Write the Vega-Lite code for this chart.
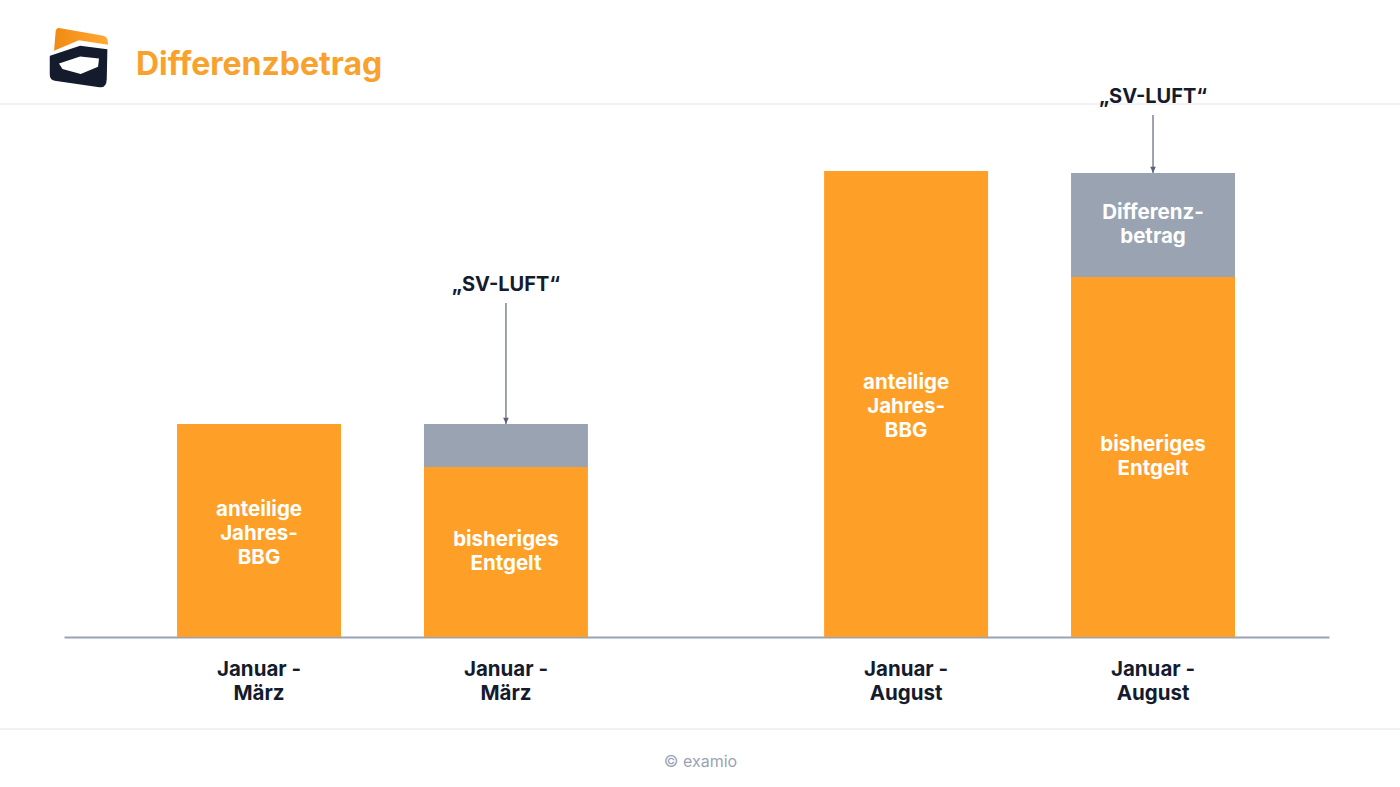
{
  "$schema": "https://vega.github.io/schema/vega-lite/v6.json",
  "width": 1265,
  "height": 500,
  "autosize": {"type": "none"},
  "padding": {"left": 64, "right": 71, "top": 137, "bottom": 150},
  "background": "#ffffff",
  "config": {
    "view": {"stroke": null},
    "font": "Inter",
    "text": {"font": "Inter"}
  },
  "datasets": {
    "werte": [
      {"zeitraum": "Januar - März", "spalte": "anteilige Jahres-BBG", "teil": "anteilige Jahres-BBG", "wert": 213, "beschriftung": "anteilige\nJahres-\nBBG", "hinweis": "", "hinweis_pfeil": null},
      {"zeitraum": "Januar - März", "spalte": "bisheriges Entgelt", "teil": "bisheriges Entgelt", "wert": 170, "beschriftung": "bisheriges\nEntgelt", "hinweis": "", "hinweis_pfeil": null},
      {"zeitraum": "Januar - März", "spalte": "bisheriges Entgelt", "teil": "Differenzbetrag", "wert": 43, "beschriftung": "", "hinweis": "„SV-LUFT“", "hinweis_pfeil": 334},
      {"zeitraum": "Januar - August", "spalte": "anteilige Jahres-BBG", "teil": "anteilige Jahres-BBG", "wert": 466, "beschriftung": "anteilige\nJahres-\nBBG", "hinweis": "", "hinweis_pfeil": null},
      {"zeitraum": "Januar - August", "spalte": "bisheriges Entgelt", "teil": "bisheriges Entgelt", "wert": 360, "beschriftung": "bisheriges\nEntgelt", "hinweis": "", "hinweis_pfeil": null},
      {"zeitraum": "Januar - August", "spalte": "bisheriges Entgelt", "teil": "Differenzbetrag", "wert": 104, "beschriftung": "Differenz-\nbetrag", "hinweis": "„SV-LUFT“", "hinweis_pfeil": 522}
    ]
  },
  "layer": [
    {
      "data": {"values": [{}]},
      "layer": [
        {
          "mark": {"type": "rule", "color": "#F1F2F4", "strokeWidth": 2},
          "encoding": {
            "x": {"datum": -64, "type": "quantitative", "scale": {"domain": [0, 1265]}, "axis": null},
            "x2": {"datum": 1336},
            "y": {"datum": 533, "type": "quantitative", "scale": {"domain": [0, 500]}, "axis": null}
          }
        },
        {
          "mark": {"type": "rule", "color": "#F1F2F4", "strokeWidth": 2},
          "encoding": {
            "x": {"datum": -64, "type": "quantitative", "scale": {"domain": [0, 1265]}, "axis": null},
            "x2": {"datum": 1336},
            "y": {"datum": -92, "type": "quantitative", "scale": {"domain": [0, 500]}, "axis": null}
          }
        },
        {
          "mark": {
            "type": "point",
            "filled": true,
            "opacity": 1,
            "size": 3844,
            "shape": "M-0.58,-0.95 L0.85,-0.70 Q0.97,-0.67 0.99,-0.54 L1.0,-0.41 L0.06,-0.56 L-0.74,-0.22 L-0.69,-0.83 Q-0.67,-0.97 -0.58,-0.95 Z",
            "color": {
              "gradient": "linear",
              "x1": 0, "y1": 0, "x2": 1, "y2": 0,
              "stops": [{"offset": 0, "color": "#F08A12"}, {"offset": 1, "color": "#FFA935"}]
            }
          },
          "encoding": {
            "x": {"datum": 13, "type": "quantitative", "scale": {"domain": [0, 1265]}, "axis": null},
            "y": {"datum": 579.5, "type": "quantitative", "scale": {"domain": [0, 500]}, "axis": null}
          }
        },
        {
          "mark": {
            "type": "point",
            "filled": true,
            "opacity": 1,
            "size": 3844,
            "color": "#141B2D",
            "shape": "M-0.87,-0.06 L0.1,-0.38 L0.98,-0.27 L0.96,0.69 Q0.95,0.99 0.72,0.96 L-0.72,0.75 Q-0.88,0.72 -0.88,0.53 L-0.88,0.0 Q-0.88,-0.04 -0.87,-0.06 Z"
          },
          "encoding": {
            "x": {"datum": 13, "type": "quantitative", "scale": {"domain": [0, 1265]}, "axis": null},
            "y": {"datum": 579.5, "type": "quantitative", "scale": {"domain": [0, 500]}, "axis": null}
          }
        },
        {
          "mark": {
            "type": "point",
            "filled": true,
            "opacity": 1,
            "size": 3844,
            "color": "#ffffff",
            "shape": "M-0.58,0.19 L0.10,-0.03 L0.71,0.03 L0.68,0.30 L0.12,0.53 L-0.47,0.37 Z"
          },
          "encoding": {
            "x": {"datum": 13, "type": "quantitative", "scale": {"domain": [0, 1265]}, "axis": null},
            "y": {"datum": 579.5, "type": "quantitative", "scale": {"domain": [0, 500]}, "axis": null}
          }
        },
        {
          "mark": {"type": "text", "text": "Differenzbetrag", "color": "#F9A12D", "fontWeight": "bold", "fontSize": 32, "align": "left", "baseline": "alphabetic"},
          "encoding": {
            "x": {"datum": 72, "type": "quantitative", "scale": {"domain": [0, 1265]}, "axis": null},
            "y": {"datum": 562, "type": "quantitative", "scale": {"domain": [0, 500]}, "axis": null}
          }
        }
      ]
    },
    {
      "data": {"name": "werte"},
      "transform": [
        {"stack": "wert", "groupby": ["zeitraum", "spalte"], "sort": [{"field": "teil", "order": "descending"}], "as": ["unten", "oben"]},
        {"calculate": "(datum.unten + datum.oben) / 2", "as": "mitte"},
        {"calculate": "replace(datum.zeitraum, ' - ', ' -\\n')", "as": "zeitraum_zeilen"}
      ],
      "encoding": {
        "x": {
          "field": "zeitraum",
          "type": "nominal",
          "sort": ["Januar - März", "Januar - August"],
          "scale": {"paddingInner": 0.365, "paddingOuter": 0.16, "align": 0.546},
          "axis": {
            "labels": false,
            "ticks": false,
            "grid": false,
            "domainColor": "#9AA3B4",
            "domainWidth": 2,
            "title": "© examio",
            "titleFont": "Inter",
            "titleFontWeight": "normal",
            "titleFontSize": 16,
            "titleColor": "#9AA3B4",
            "titleX": 636,
            "titleY": 124,
            "titleBaseline": "middle",
            "titleAlign": "center"
          }
        },
        "xOffset": {
          "field": "spalte",
          "type": "nominal",
          "sort": ["anteilige Jahres-BBG", "bisheriges Entgelt"],
          "scale": {"paddingInner": 0.336, "paddingOuter": 0}
        }
      },
      "layer": [
        {
          "mark": {"type": "bar"},
          "encoding": {
            "y": {"field": "oben", "type": "quantitative", "scale": {"domain": [0, 500]}, "axis": null},
            "y2": {"field": "unten"},
            "color": {
              "field": "teil",
              "type": "nominal",
              "scale": {
                "domain": ["anteilige Jahres-BBG", "bisheriges Entgelt", "Differenzbetrag"],
                "range": ["#FEA027", "#FEA027", "#9AA3B2"]
              },
              "legend": null
            }
          }
        },
        {
          "transform": [{"filter": "datum.teil === 'anteilige Jahres-BBG'"}],
          "mark": {"type": "text", "color": "#ffffff", "fontWeight": "bold", "fontSize": 20.5, "lineHeight": 24, "lineBreak": "\n", "baseline": "middle", "align": "center", "dy": -21},
          "encoding": {
            "y": {"field": "mitte", "type": "quantitative"},
            "text": {"field": "beschriftung"}
          }
        },
        {
          "transform": [{"filter": "datum.teil !== 'anteilige Jahres-BBG'"}],
          "mark": {"type": "text", "color": "#ffffff", "fontWeight": "bold", "fontSize": 20.5, "lineHeight": 24, "lineBreak": "\n", "baseline": "middle", "align": "center", "dy": -12},
          "encoding": {
            "y": {"field": "mitte", "type": "quantitative"},
            "text": {"field": "beschriftung"}
          }
        },
        {
          "transform": [{"filter": "datum.teil !== 'Differenzbetrag'"}],
          "mark": {"type": "text", "color": "#141B2D", "fontWeight": "bold", "fontSize": 20.5, "lineHeight": 24, "lineBreak": "\n", "baseline": "middle", "align": "center", "dy": 33},
          "encoding": {
            "y": {"datum": 0, "type": "quantitative"},
            "text": {"field": "zeitraum_zeilen"}
          }
        },
        {
          "transform": [{"filter": "datum.hinweis !== ''"}],
          "mark": {"type": "rule", "color": "#5B6477", "strokeWidth": 1.2},
          "encoding": {
            "y": {"field": "hinweis_pfeil", "type": "quantitative"},
            "y2": {"field": "oben"}
          }
        },
        {
          "transform": [{"filter": "datum.hinweis !== ''"}],
          "mark": {"type": "point", "shape": "M-0.4,-0.9 L0.4,-0.9 L0,0 Z", "filled": true, "opacity": 1, "color": "#5B6477", "size": 196},
          "encoding": {
            "y": {"field": "oben", "type": "quantitative"}
          }
        },
        {
          "transform": [{"filter": "datum.hinweis !== ''"}],
          "mark": {"type": "text", "color": "#141B2D", "fontWeight": "bold", "fontSize": 20, "baseline": "middle", "align": "center", "dy": -18},
          "encoding": {
            "y": {"field": "hinweis_pfeil", "type": "quantitative"},
            "text": {"field": "hinweis"}
          }
        }
      ]
    }
  ],
  "resolve": {
    "scale": {"x": "independent", "y": "independent"},
    "axis": {"x": "independent", "y": "independent"}
  }
}
